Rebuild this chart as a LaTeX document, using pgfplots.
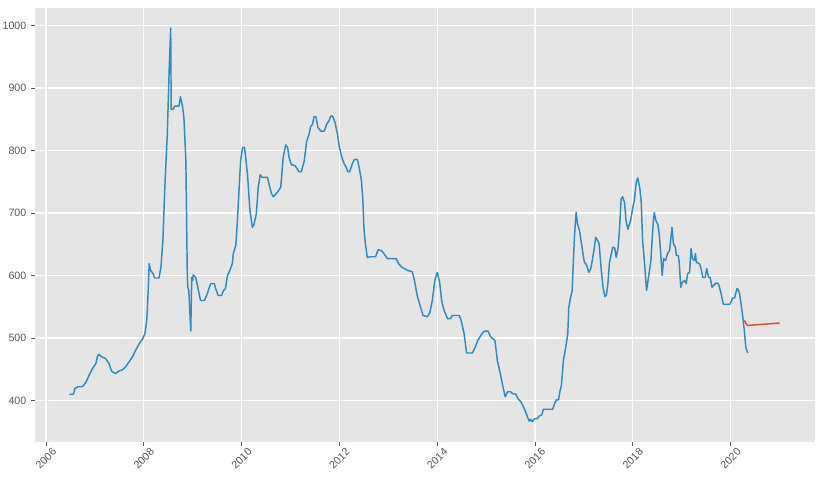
\documentclass[border=0pt]{standalone}
\usepackage{pgfplots}
\pgfplotsset{compat=1.18}
\usepackage{fontspec}
\setmainfont{Liberation Sans}
\usetikzlibrary{calc}
\definecolor{bgc}{HTML}{E5E5E5}
\definecolor{blu}{HTML}{348ABD}
\definecolor{redc}{HTML}{E24A33}
\definecolor{tickc}{HTML}{555555}
\begin{document}
\begin{tikzpicture}
\begin{axis}[
  scale only axis, width=585pt, height=325.3pt,
  xmin=2005.775, xmax=2021.725, ymin=334, ymax=1028,
  axis background/.style={fill=bgc},
  axis line style={draw=none},
  grid=major, major grid style={white, line width=0.8pt},
  xtick={2006,2008,...,2020}, ytick={400,500,...,1000},
  tick pos=left, tick align=outside, major tick length=3pt,
  tick style={tickc, line width=0.6pt},
  ticklabel style={font=\fontsize{8}{9.6}\selectfont, text=tickc},
  /pgf/number format/1000 sep={}, /pgf/number format/assume math mode=true,
  xticklabel style={anchor=center, yshift=-9.5pt, rotate=45},
]
\addplot[blu, line width=1.1pt, line join=round] coordinates {
(2006.48,410)(2006.56,410)(2006.59,419)(2006.65,422)(2006.74,422)(2006.81,428)
(2006.88,440)(2006.95,451)(2007.02,459)(2007.05,470)(2007.08,474)(2007.14,470)
(2007.22,467)(2007.29,459)(2007.34,447)(2007.42,443)(2007.49,447)(2007.56,449)
(2007.63,454)(2007.70,462)(2007.77,470)(2007.83,480)(2007.90,490)(2007.97,498)
(2008.02,506)(2008.06,528)(2008.09,576)(2008.11,619)(2008.14,608)(2008.19,603)
(2008.22,596)(2008.31,596)(2008.35,613)(2008.39,656)(2008.43,741)(2008.48,826)
(2008.52,932)(2008.55,996)(2008.56,866)(2008.60,866)(2008.63,871)(2008.72,871)
(2008.75,886)(2008.79,871)(2008.82,853)(2008.86,784)(2008.89,597)(2008.90,581)
(2008.92,576)(2008.96,511)(2008.98,597)(2009.00,592)(2009.01,601)(2009.06,597)
(2009.09,587)(2009.13,571)(2009.16,560)(2009.24,560)(2009.30,571)(2009.33,579)
(2009.37,587)(2009.44,587)(2009.47,579)(2009.52,568)(2009.59,568)(2009.63,576)
(2009.67,579)(2009.71,600)(2009.76,608)(2009.81,619)(2009.83,635)(2009.88,648)
(2009.91,682)(2009.95,741)(2009.98,784)(2010.02,805)(2010.06,805)(2010.12,762)
(2010.17,704)(2010.22,677)(2010.25,681)(2010.30,698)(2010.34,741)(2010.38,761)
(2010.42,757)(2010.53,757)(2010.56,746)(2010.61,731)(2010.65,726)(2010.73,733)
(2010.80,741)(2010.85,789)(2010.90,809)(2010.94,805)(2010.97,789)(2011.02,777)
(2011.09,776)(2011.14,770)(2011.17,766)(2011.22,766)(2011.28,783)(2011.33,815)
(2011.38,826)(2011.41,838)(2011.45,842)(2011.48,854)(2011.52,854)(2011.56,837)
(2011.62,831)(2011.69,831)(2011.74,842)(2011.79,848)(2011.82,855)(2011.86,855)
(2011.91,845)(2011.96,826)(2012.00,805)(2012.05,789)(2012.10,778)(2012.14,773)
(2012.17,766)(2012.21,766)(2012.26,778)(2012.30,785)(2012.34,786)(2012.37,785)
(2012.41,770)(2012.45,752)(2012.48,720)(2012.50,677)(2012.53,651)(2012.57,629)
(2012.64,630)(2012.74,630)(2012.79,641)(2012.86,640)(2012.91,635)(2012.98,627)
(2013.16,627)(2013.21,619)(2013.28,613)(2013.33,611)(2013.40,608)(2013.49,606)
(2013.54,590)(2013.59,568)(2013.66,549)(2013.71,536)(2013.80,534)(2013.85,541)
(2013.90,560)(2013.95,592)(2014.00,605)(2014.05,589)(2014.09,560)(2014.14,544)
(2014.21,531)(2014.27,531)(2014.31,536)(2014.45,536)(2014.49,528)(2014.55,507)
(2014.60,476)(2014.72,476)(2014.78,486)(2014.83,496)(2014.89,504)(2014.96,511)
(2015.04,511)(2015.09,502)(2015.18,496)(2015.23,464)(2015.29,443)(2015.33,427)
(2015.39,406)(2015.44,414)(2015.50,414)(2015.54,411)(2015.61,410)(2015.65,403)
(2015.71,398)(2015.78,387)(2015.83,377)(2015.88,367)(2015.91,370)(2015.94,366)
(2015.99,371)(2016.05,371)(2016.08,375)(2016.14,377)(2016.17,386)(2016.36,386)
(2016.40,395)(2016.44,401)(2016.48,401)(2016.51,415)(2016.54,424)(2016.58,464)
(2016.63,486)(2016.67,507)(2016.69,549)(2016.72,562)(2016.76,576)(2016.79,635)
(2016.81,667)(2016.84,701)(2016.87,682)(2016.91,672)(2016.94,656)(2016.98,635)
(2017.01,621)(2017.04,619)(2017.07,613)(2017.10,605)(2017.14,611)(2017.17,624)
(2017.21,643)(2017.24,661)(2017.28,656)(2017.31,651)(2017.35,613)(2017.39,581)
(2017.43,566)(2017.46,569)(2017.49,587)(2017.52,619)(2017.56,635)(2017.59,645)
(2017.63,644)(2017.66,629)(2017.70,645)(2017.73,677)(2017.76,722)(2017.79,726)
(2017.83,717)(2017.86,688)(2017.90,674)(2017.93,682)(2017.96,690)(2018.00,709)
(2018.03,720)(2018.07,749)(2018.10,756)(2018.14,741)(2018.17,720)(2018.20,656)
(2018.24,619)(2018.28,576)(2018.32,597)(2018.37,624)(2018.39,651)(2018.42,688)
(2018.44,701)(2018.47,688)(2018.51,682)(2018.54,666)(2018.58,624)(2018.60,600)
(2018.63,627)(2018.67,624)(2018.71,635)(2018.75,640)(2018.78,661)(2018.80,677)
(2018.83,651)(2018.87,645)(2018.89,632)(2018.93,632)(2018.95,619)(2018.98,581)
(2019.01,589)(2019.06,592)(2019.09,587)(2019.12,603)(2019.16,605)(2019.19,643)
(2019.22,627)(2019.26,624)(2019.28,635)(2019.30,621)(2019.36,619)(2019.39,613)
(2019.43,597)(2019.48,597)(2019.51,611)(2019.55,597)(2019.58,597)(2019.62,581)
(2019.65,584)(2019.70,588)(2019.75,587)(2019.80,573)(2019.85,554)(2019.99,554)
(2020.04,564)(2020.08,564)(2020.13,579)(2020.15,578)(2020.18,572)(2020.21,556)
(2020.24,539)(2020.28,512)(2020.31,485)(2020.35,476)
};
\addplot[redc, line width=1.1pt, line join=round] coordinates {
(2020.28,528)(2020.34,520)(2021.00,524)
};
\end{axis}
\pgfresetboundingbox
\path ($(current axis.south west)+(-26.25pt,-25.7pt)$) rectangle ($(current axis.north east)+(5.25pt,6pt)$);
\end{tikzpicture}
\end{document}
